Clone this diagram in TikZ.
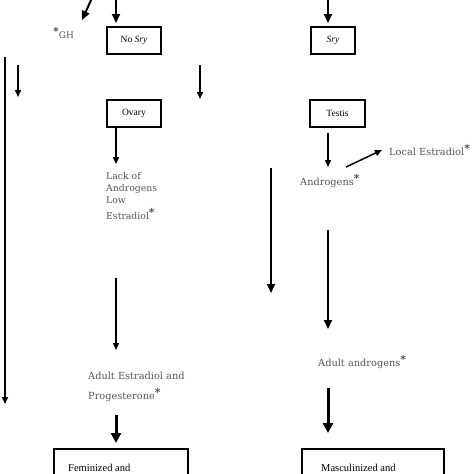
\documentclass[tikz,border=0pt]{standalone}
\usepackage{fontspec}
\setmainfont{Liberation Serif}
\newfontfamily\slab{DejaVu Serif}
\newfontfamily\symb{DejaVu Sans}
\usetikzlibrary{arrows.meta}
\definecolor{txtgray}{HTML}{555555}
\newcommand{\astx}{\raisebox{0.55ex}{\symb\bfseries\fontsize{11}{11}\selectfont *}}
\begin{document}
\begin{tikzpicture}[x=1pt,y=-1pt,
  boxn/.style={draw,line width=1.6pt,minimum height=27pt,inner sep=0pt,font=\fontsize{9.5}{10}\selectfont},
  bigbox/.style={draw,line width=2pt,minimum height=60pt,inner sep=0pt},
  gtxt/.style={text=txtgray,font=\slab\fontsize{9.8}{13}\selectfont,inner sep=0pt,align=left},
  thin/.style={line width=1.5pt,-{Triangle[length=7pt,width=6pt]}},
  mid/.style={line width=2pt,-{Triangle[length=9pt,width=8pt]}},
  thick/.style={line width=3pt,-{Triangle[length=10pt,width=10pt]}}]
\useasboundingbox (0,0) rectangle (474,474);
\begin{scope}
\clip (0,0) rectangle (474,474);
% boxes
\node[boxn,minimum width=54pt] (nosry) at (134,40.5) {No \textit{Sry}};
\node[boxn,minimum width=44pt] (sry) at (333,40.5) {\textit{Sry}};
\node[boxn,minimum width=54pt] (ovary) at (134,113.5) {Ovary};
\node[boxn,minimum width=55pt] (testis) at (337.5,113.5) {Testis};
\node[bigbox,minimum width=134pt] (fem) at (121,479) {};
\node[bigbox,minimum width=142pt] (masc) at (373,479) {};
\node[anchor=base west,inner sep=0pt,font=\fontsize{10.5}{12}\selectfont] (femt) at (68,471) {Feminized and};
\node[anchor=base west,inner sep=0pt,font=\fontsize{10.5}{12}\selectfont] (masct) at (321,471) {Masculinized and};
% gray texts
\node[gtxt,anchor=base west] (gh) at (53,38) {\astx\fontsize{9}{9}\selectfont GH};
\node[gtxt,anchor=north west,font=\slab\fontsize{9.3}{12}\selectfont] (lack) at (106,172) {Lack of\\Androgens\\Low\\[4pt]Estradiol\astx};
\node[gtxt,anchor=base west] (andr) at (300,185) {Androgens\astx};
\node[gtxt,anchor=base west] (loce) at (389,155) {Local Estradiol\astx};
\node[gtxt,anchor=north west,font=\slab\fontsize{9.8}{20}\selectfont] (adep) at (88,372) {Adult Estradiol and\\Progesterone\astx};
\node[gtxt,anchor=base west] (adan) at (318,366) {Adult androgens\astx};
% coordinates
\coordinate (a1s) at (92,-2); \coordinate (a1e) at (82,20);
\coordinate (a2s) at (116,-2); \coordinate (a2e) at (116,23);
\coordinate (a3s) at (328,-2); \coordinate (a3e) at (328,23);
\coordinate (l1s) at (5,57); \coordinate (l1e) at (5,404);
\coordinate (a4s) at (18,65); \coordinate (a4e) at (18,97);
\coordinate (a5s) at (200,65); \coordinate (a5e) at (200,99);
\coordinate (a6s) at (116,127); \coordinate (a6e) at (116,164);
\coordinate (a7s) at (328,133); \coordinate (a7e) at (328,167);
\coordinate (a8s) at (346,167); \coordinate (a8e) at (382,150);
\coordinate (a9s) at (271,168); \coordinate (a9e) at (271,293);
\coordinate (a10s) at (116,278); \coordinate (a10e) at (116,350);
\coordinate (a11s) at (328,230); \coordinate (a11e) at (328,329);
\coordinate (a12s) at (116,415); \coordinate (a12e) at (116,443);
\coordinate (a13s) at (328,388); \coordinate (a13e) at (328,433);
% arrows
\draw[mid] (a1s) -- (a1e);
\draw[mid] (a2s) -- (a2e);
\draw[mid] (a3s) -- (a3e);
\draw[thin] (l1s) -- (l1e);
\draw[thin] (a4s) -- (a4e);
\draw[thin] (a5s) -- (a5e);
\draw[thin] (a6s) -- (a6e);
\draw[thin] (a7s) -- (a7e);
\draw[thin] (a8s) -- (a8e);
\draw[mid] (a9s) -- (a9e);
\draw[thin] (a10s) -- (a10e);
\draw[mid] (a11s) -- (a11e);
\draw[thick] (a12s) -- (a12e);
\draw[thick] (a13s) -- (a13e);
\end{scope}
\end{tikzpicture}
\end{document}
